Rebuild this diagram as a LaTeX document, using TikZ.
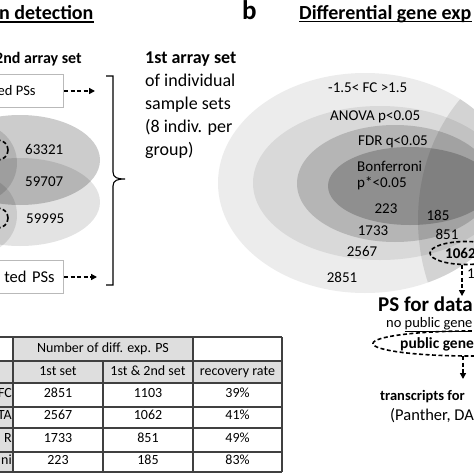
\documentclass[tikz,border=0pt]{standalone}
\usepackage{fontspec}
\setmainfont{Carlito}
\usetikzlibrary{arrows.meta}
\definecolor{ringA}{gray}{0.925}
\definecolor{ringB}{gray}{0.85}
\definecolor{ringC}{gray}{0.71}
\definecolor{ringD}{gray}{0.56}
\definecolor{cellgray}{gray}{0.87}
\definecolor{rule}{gray}{0.25}
\tikzset{
  txt/.style={inner sep=0pt, anchor=base west, font=\fontsize{15}{18}\selectfont},
  num/.style={inner sep=0pt, anchor=base, font=\fontsize{15}{18}\selectfont},
  title/.style={inner sep=0pt, anchor=base west, font=\bfseries\fontsize{20}{24}\selectfont},
  cell/.style={inner sep=0pt, font=\fontsize{14}{16}\selectfont, text height=9.5pt, text depth=2.5pt},
  psbox/.style={draw=gray!55, line width=0.8pt, inner ysep=0pt, minimum height=33pt, font=\fontsize{14.5}{16}\selectfont},
  dashring/.style={line width=1.6pt, dash pattern=on 4pt off 2.5pt},
  dasharrow/.style={dashring, -{Triangle[length=6pt,width=6pt]}}
}
\begin{document}
\begin{tikzpicture}[x=1pt, y=-1pt]
\useasboundingbox (0,0) rectangle (474,474);
\fill[white] (0,0) rectangle (474,474);

% titles
\node[title] (ta) at (-1,19) {n detection};
\draw[line width=1.2pt] ([yshift=-3pt]ta.base west) -- ([yshift=-3pt]ta.base east);
\node[inner sep=0pt, anchor=base west, font=\bfseries\fontsize{27}{30}\selectfont] (pb) at (242,19) {b};
\node[title] (tb) at (299,19) {Differential gene exp};
\draw[line width=1.2pt] ([yshift=-2.5pt]tb.base west) -- ([yshift=-2.5pt]tb.base east);

% panel a: array sets
\node[inner sep=0pt, anchor=base west, font=\bfseries\fontsize{16}{19}\selectfont] (set2) at (-5,63) {2nd array set};
\node[psbox, inner xsep=28pt, anchor=east] (upbox) at (64,91) {ed PSs};
\node[psbox, inner xsep=9pt, text width=90pt, align=right, anchor=east, font=\fontsize{16.5}{18}\selectfont] (lowbox) at (64,277) {ted PSs};
\coordinate (upend) at (95,91);
\coordinate (lowend) at (97,277);
\draw[dasharrow] (upbox.east) -- (upend);
\draw[dasharrow] (lowbox.east) -- (lowend);

\fill[black, fill opacity=0.2] (20,160) ellipse [x radius=80pt, y radius=45pt];
\fill[black, fill opacity=0.11] (20,202) ellipse [x radius=80pt, y radius=44pt];
\fill[black, fill opacity=0.12] (-22,163) circle [radius=39pt];
\fill[black, fill opacity=0.1] (-22,215) circle [radius=39pt];
\draw[dashring] (-2,150) circle [radius=10pt];
\draw[dashring] (-2,218) circle [radius=10pt];
\node[txt] (n1) at (25,154) {63321};
\node[txt] (n2) at (25,186) {59707};
\node[txt] (n3) at (26,223) {59995};

\draw[line width=1.1pt] (106,76) -- (113,76) -- (113,172)
  .. controls (113,178) and (118,179) .. (125,179)
  .. controls (118,179) and (113,180) .. (113,186) -- (113,285) -- (106,285);
\node[inner sep=0pt, anchor=north west, align=left, font=\fontsize{18}{23}\selectfont] (set1) at (145,52)
  {\textbf{1st array set}\\of individual\\sample sets\\(8 indiv. per\\group)};

% table
\fill[cellgray] (13,337) rectangle (193,361);
\fill[cellgray] (0,361) rectangle (282,383);
\fill[cellgray] (0,383) rectangle (13,472);
\foreach \y in {337,361,383,407,428,452,472}
  \draw[rule, line width=1.5pt] (0,\y) -- (282,\y);
\foreach \x in {13,193,282}
  \draw[rule, line width=1.2pt] (\x,337) -- (\x,472);
\draw[rule, line width=1.2pt] (103,361) -- (103,472);
\node[cell] (hd) at (103,349) {Number of diff. exp. PS};
\node[cell] (h1) at (58,372) {1st set};
\node[cell] (h2) at (148,372) {1st \& 2nd set};
\node[cell] (h3) at (237.5,372) {recovery rate};
\foreach \lab/\a/\b/\c [count=\i] in {FC/2851/1103/39\%, TA/2567/1062/41\%, R/1733/851/49\%, ni/223/185/83\%}{
  \pgfmathsetmacro{\yy}{383+(\i-1)*22.3+11}
  \node[cell, anchor=east] (r\i l) at (12,\yy) {\lab};
  \node[cell] (r\i a) at (58,\yy) {\a};
  \node[cell] (r\i b) at (148,\yy) {\b};
  \node[cell] (r\i c) at (237.5,\yy) {\c};
}

% panel b: nested selections
\fill[ringA] (365,183) ellipse [x radius=147pt, y radius=110pt];
\fill[ringB] (380,183) ellipse [x radius=127pt, y radius=77pt];
\fill[ringC] (395,183.5) ellipse [x radius=98pt, y radius=58.5pt];
\fill[ringD] (410,186) ellipse [x radius=82pt, y radius=39pt];
\begin{scope}
  \clip (365,183) ellipse [x radius=147pt, y radius=110pt];
  \fill[black, fill opacity=0.1] (560,220) ellipse [x radius=142pt, y radius=170pt];
\end{scope}
\node[txt] (fc) at (328,92) {-1.5< FC >1.5};
\node[txt] (anova) at (330,120) {ANOVA p<0.05};
\node[txt] (fdr) at (358,145) {FDR q<0.05};
\node[txt, anchor=north west, align=left, font=\fontsize{15}{16}\selectfont] (bonf) at (357,161) {Bonferroni\\p*<0.05};
\node[num] (b223) at (386,213) {223};
\node[num] (b1733) at (373,235) {1733};
\node[num] (b2567) at (362,256) {2567};
\node[num] (b2851) at (342,282) {2851};
\node[num] (b185) at (438,220) {185};
\node[num] (b851) at (447,239) {851};
\node[txt, font=\bfseries\fontsize{15}{18}\selectfont] (b1062) at (445,258) {1062};
\node[txt] (b1103) at (467,278) {1};
\draw[dashring] (466,253) ellipse [x radius=36pt, y radius=11.5pt];
\coordinate (selA) at (462,264.5);

\node[inner sep=0pt, anchor=base west, font=\bfseries\fontsize{21}{24}\selectfont] (psdata) at (378,311) {PS for data};
\draw[dasharrow] (selA) -- (psdata.north -| selA);
\node[inner sep=0pt, anchor=base west, font=\fontsize{14.5}{16}\selectfont] (nogene) at (386,327) {no \underline{public gene}};
\node[inner sep=0pt, anchor=base west, font=\bfseries\fontsize{15.5}{17}\selectfont] (pubgene) at (400,348) {public gene};
\draw[dashring] (470,343.5) ellipse [x radius=97pt, y radius=12.5pt];
\coordinate (selB) at (463,356);
\node[inner sep=0pt, anchor=base west, font=\bfseries\fontsize{14.5}{17}\selectfont] (trans) at (380,400) {transcripts for};
\coordinate (transtop) at (463,379);
\draw[dasharrow] (selB) -- (transtop);
\node[inner sep=0pt, anchor=base west, font=\fontsize{16.5}{19}\selectfont] (tools) at (390,420) {(Panther, DA};
\end{tikzpicture}
\end{document}
